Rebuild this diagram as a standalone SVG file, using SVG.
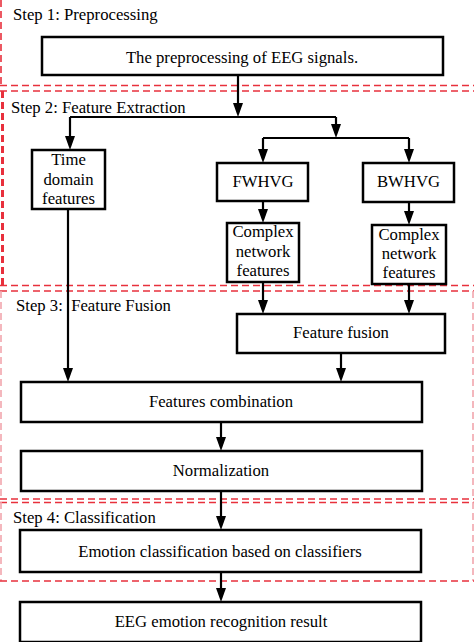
<svg xmlns="http://www.w3.org/2000/svg" width="474" height="642" viewBox="0 0 474 642">
<defs>
<style>
.box{fill:#fff;stroke:#000;stroke-width:2.5}
.t{font-family:"Liberation Serif","Times New Roman",serif;font-size:16.7px;fill:#000;text-anchor:middle}
.s{font-family:"Liberation Serif","Times New Roman",serif;font-size:16.7px;fill:#000;white-space:pre}
.dr{fill:none;stroke:#e8303c;stroke-width:1.6;stroke-dasharray:7 4}
.dp{fill:none;stroke:#f2a6ad;stroke-width:1.6;stroke-dasharray:7 4}
.c{fill:none;stroke:#000;stroke-width:2.2}
.a{fill:none;stroke:#000;stroke-width:2.2;marker-end:url(#ah)}
</style>
<marker id="ah" markerUnits="userSpaceOnUse" markerWidth="14" markerHeight="10" viewBox="0 0 14 10" refX="6" refY="5" orient="auto">
<path d="M0,0 L14,5 L0,10 Z" fill="#000"/>
</marker>
</defs>
<g id="frames">
<line class="dr" x1="1" y1="0" x2="1" y2="85"/>
<line class="dr" x1="0" y1="85.5" x2="474" y2="85.5"/>
<line class="dr" x1="0" y1="91" x2="474" y2="91"/>
<line class="dr" x1="2.5" y1="91" x2="2.5" y2="285" style="stroke-width:3"/>
<line class="dr" x1="0" y1="285.5" x2="474" y2="285.5"/>
<line class="dr" x1="0" y1="291" x2="474" y2="291"/>
<line class="dp" x1="1" y1="291" x2="1" y2="499"/>
<line class="dp" x1="473" y1="291" x2="473" y2="499"/>
<line class="dr" x1="0" y1="499" x2="474" y2="499"/>
<line class="dr" x1="0" y1="502.5" x2="474" y2="502.5"/>
<line class="dp" x1="1" y1="502" x2="1" y2="581"/>
<line class="dp" x1="473" y1="502" x2="473" y2="581"/>
<line class="dr" x1="0" y1="581" x2="474" y2="581"/>
</g>
<g id="labels">
<text class="s" x="13" y="20">Step 1: Preprocessing</text>
<text class="s" x="11" y="113">Step 2: Feature Extraction</text>
<text class="s" x="16" y="311">Step 3:  Feature Fusion</text>
<text class="s" x="13" y="523">Step 4: Classification</text>
</g>
<g id="connectors">
<path class="c" d="M70,117 H336"/>
<path class="c" d="M263,138 H409"/>
<path class="a" d="M238,75 V109"/>
<path class="a" d="M70,117 V142"/>
<path class="a" d="M336,117 V130"/>
<path class="a" d="M263,138 V155"/>
<path class="a" d="M409,138 V155"/>
<path class="a" d="M263,201 V215"/>
<path class="a" d="M409,202 V217"/>
<path class="a" d="M263,282 V306"/>
<path class="a" d="M409,284 V306"/>
<path class="a" d="M68,209 V374"/>
<path class="a" d="M341,353 V374"/>
<path class="a" d="M221,422 V443"/>
<path class="a" d="M221,491 V522"/>
<path class="a" d="M221,572 V594"/>
</g>
<g id="pre"><rect class="box" x="42" y="37" width="401" height="38"/><text class="t" x="242" y="63">The preprocessing of EEG signals.</text></g>
<g id="time"><rect class="box" x="32" y="150" width="73" height="59"/><text class="t" x="68.5" y="165">Time</text><text class="t" x="68.5" y="185">domain</text><text class="t" x="68.5" y="204">features</text></g>
<g id="fwhvg"><rect class="box" x="217" y="163" width="91" height="38"/><text class="t" x="263" y="187">FWHVG</text></g>
<g id="bwhvg"><rect class="box" x="363" y="163" width="91" height="39"/><text class="t" x="408.5" y="187">BWHVG</text></g>
<g id="cnf1"><rect class="box" x="227" y="223" width="72" height="59"/><text class="t" x="263" y="237">Complex</text><text class="t" x="263" y="257">network</text><text class="t" x="263" y="276">features</text></g>
<g id="cnf2"><rect class="box" x="372" y="225" width="74" height="59"/><text class="t" x="409" y="240">Complex</text><text class="t" x="409" y="259">network</text><text class="t" x="409" y="278">features</text></g>
<g id="fusion"><rect class="box" x="237" y="314" width="208" height="39"/><text class="t" x="341" y="338">Feature fusion</text></g>
<g id="combination"><rect class="box" x="21" y="382" width="401" height="40"/><text class="t" x="221" y="407">Features combination</text></g>
<g id="normalization"><rect class="box" x="21" y="451" width="401" height="40"/><text class="t" x="221" y="476">Normalization</text></g>
<g id="classification"><rect class="box" x="20" y="530" width="401" height="42"/><text class="t" x="220" y="557">Emotion classification based on classifiers</text></g>
<g id="result"><rect class="box" x="20" y="602" width="401" height="40"/><text class="t" x="221" y="627">EEG emotion recognition result</text></g>
</svg>
